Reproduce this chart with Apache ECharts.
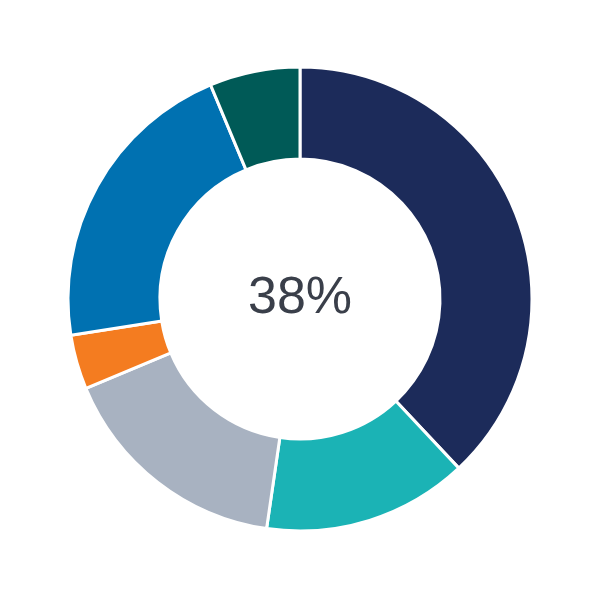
<!DOCTYPE html>
<html>
<head>
<meta charset="utf-8">
<script src="https://cdn.jsdelivr.net/npm/echarts@6/dist/echarts.min.js"></script>
<style>
html,body{margin:0;padding:0;background:#fff;}
#chart{width:600px;height:600px;}
</style>
</head>
<body>
<div id="chart"></div>
<script>
const categories = ['Navy', 'Teal', 'Gray', 'Orange', 'Blue', 'Green'];
const values = [38, 14.3, 16.4, 3.8, 21.2, 6.3];
const colors = ['#1c2b5a', '#1bb3b5', '#a8b2c1', '#f47c20', '#0071b1', '#005a57'];
const centerLabel = '38%';

const chart = echarts.init(document.getElementById('chart'), null, {renderer: 'canvas'});
chart.setOption({
  animation: false,
  backgroundColor: '#ffffff',
  graphic: [{
    type: 'text',
    x: 300,
    y: 299,
    style: {
      text: centerLabel,
      fill: '#3a3f4a',
      font: '52px "Liberation Sans", Arial, sans-serif',
      textAlign: 'center',
      textVerticalAlign: 'middle'
    }
  }],
  series: [{
    type: 'pie',
    center: [300, 299],
    radius: [140, 232],
    startAngle: 90,
    clockwise: true,
    label: {show: false},
    labelLine: {show: false},
    itemStyle: {borderColor: '#ffffff', borderWidth: 3},
    emphasis: {disabled: true},
    data: categories.map((c, i) => ({name: c, value: values[i], itemStyle: {color: colors[i]}}))
  }]
});
</script>
</body>
</html>
